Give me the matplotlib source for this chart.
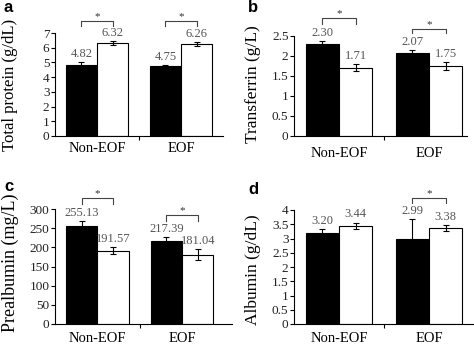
"""four bar panels: serum proteins, Non-EOF vs EOF"""
import matplotlib
matplotlib.use('Agg')
import matplotlib.pyplot as plt
import numpy as np

plt.rcParams['font.family'] = ['Liberation Serif', 'DejaVu Serif']

groups = ['Non-EOF', 'EOF']

protein = [4.82, 6.32, 4.75, 6.26]
protein_err = [0.20, 0.12, 0.10, 0.15]
transferrin = [2.30, 1.71, 2.07, 1.75]
transferrin_err = [0.07, 0.08, 0.09, 0.11]
prealbumin = [255.13, 191.57, 217.39, 181.04]
prealbumin_err = [14, 10, 10, 15]
albumin = [3.20, 3.44, 2.99, 3.38]
albumin_err = [0.12, 0.12, 0.70, 0.10]

labels_a = ['4.82', '6.32', '4.75', '6.26']
labels_b = ['2.30', '1.71', '2.07', '1.75']
labels_c = ['255.13', '191.57', '217.39', '181.04']
labels_d = ['3.20', '3.44', '2.99', '3.38']

W, H = 474, 345
fig = plt.figure(figsize=(W / 100, H / 100), dpi=100)


def px_axes(left, right, top, bottom):
    return fig.add_axes([left / W, 1 - bottom / H, (right - left) / W, (bottom - top) / H])


def panel(ax, vals, errs, labels, ymax, step, xr, ylabel, label_x, label_y, label_size,
          letter, letter_xy, brackets, xpad):
    w = 0.37
    x = np.arange(len(groups))
    ax.bar(x - w / 2, vals[0::2], w, color='black', edgecolor='black', linewidth=0.8,
           yerr=errs[0::2], capsize=2, error_kw=dict(elinewidth=0.8, capthick=0.8))
    ax.bar(x + w / 2, vals[1::2], w, color='white', edgecolor='black', linewidth=0.8,
           yerr=errs[1::2], capsize=2, error_kw=dict(elinewidth=0.8, capthick=0.8))
    xs = [x[0] - w / 2, x[0] + w / 2, x[1] - w / 2, x[1] + w / 2]
    for xi, v, e, lab in zip(xs, vals, errs, labels):
        ax.annotate(lab, (xi, v + e), xytext=(0, 1.5), textcoords='offset points',
                    ha='center', va='bottom', fontsize=9, color='#555555')
    for gi, top, leg in brackets:
        x0, x1 = x[gi] - w / 2, x[gi] + w / 2
        ax.plot([x0, x0, x1, x1], [leg, top, top, leg], color='#444444', lw=0.8,
                clip_on=False)
        ax.text((x0 + x1) / 2, top, '*', ha='center', va='bottom', fontsize=8,
                color='#333333')
    ax.set_xlim(-0.5, xr)
    ax.set_ylim(0, ymax)
    yt = np.arange(0, ymax + step / 2, step)
    ax.set_yticks(yt)
    ax.set_yticklabels(['%g' % t for t in yt])
    ax.tick_params(axis='y', direction='out', length=3, width=0.8, pad=1,
                   labelsize=9.5, labelcolor='#222222')
    ax.set_xticks([0.5])
    ax.set_xticklabels([])
    ax.set_xticks(x, minor=True)
    ax.set_xticklabels(groups, minor=True)
    ax.tick_params(axis='x', which='major', direction='out', length=3, width=0.8)
    ax.tick_params(axis='x', which='minor', length=0, pad=xpad, labelsize=10.5)
    for s in ['top', 'right']:
        ax.spines[s].set_visible(False)
    for s in ['left', 'bottom']:
        ax.spines[s].set_linewidth(0.8)
    fig.text(label_x / W, 1 - label_y / H, ylabel, rotation=90, ha='center',
             va='center', fontsize=label_size)
    fig.text(letter_xy[0] / W, 1 - letter_xy[1] / H, letter, ha='left', va='top',
             fontsize=12, fontweight='bold', family='Liberation Sans')


ax_a = px_axes(55, 223, 33, 136)
panel(ax_a, protein, protein_err, labels_a, 7, 1, 1.5, 'Total protein (g/dL)',
      10, 85, 12, 'a', (4, 0), [(0, 7.8, 7.45), (1, 7.8, 7.45)], 4)

ax_b = px_axes(294, 467, 36, 136)
panel(ax_b, transferrin, transferrin_err, labels_b, 2.5, 0.5, 1.42, 'Transferrin (g/L)',
      253, 84, 12.5, 'b', (248, 0), [(0, 2.95, 2.8), (1, 2.67, 2.57)], 8)

ax_c = px_axes(55, 232, 209, 324)
panel(ax_c, prealbumin, prealbumin_err, labels_c, 300, 50, 1.59, 'Prealbumin (mg/L)',
      10, 263, 13, 'c', (4, 179), [(0, 329, 313), (1, 284, 268)], 6)

ax_d = px_axes(294, 474, 210, 324)
panel(ax_d, albumin, albumin_err, labels_d, 4, 0.5, 1.5, 'Albumin (g/dL)',
      253, 270, 12.5, 'd', (248, 182), [(1, 4.42, 4.25)], 6)

fig.savefig('out.png', dpi=100)
